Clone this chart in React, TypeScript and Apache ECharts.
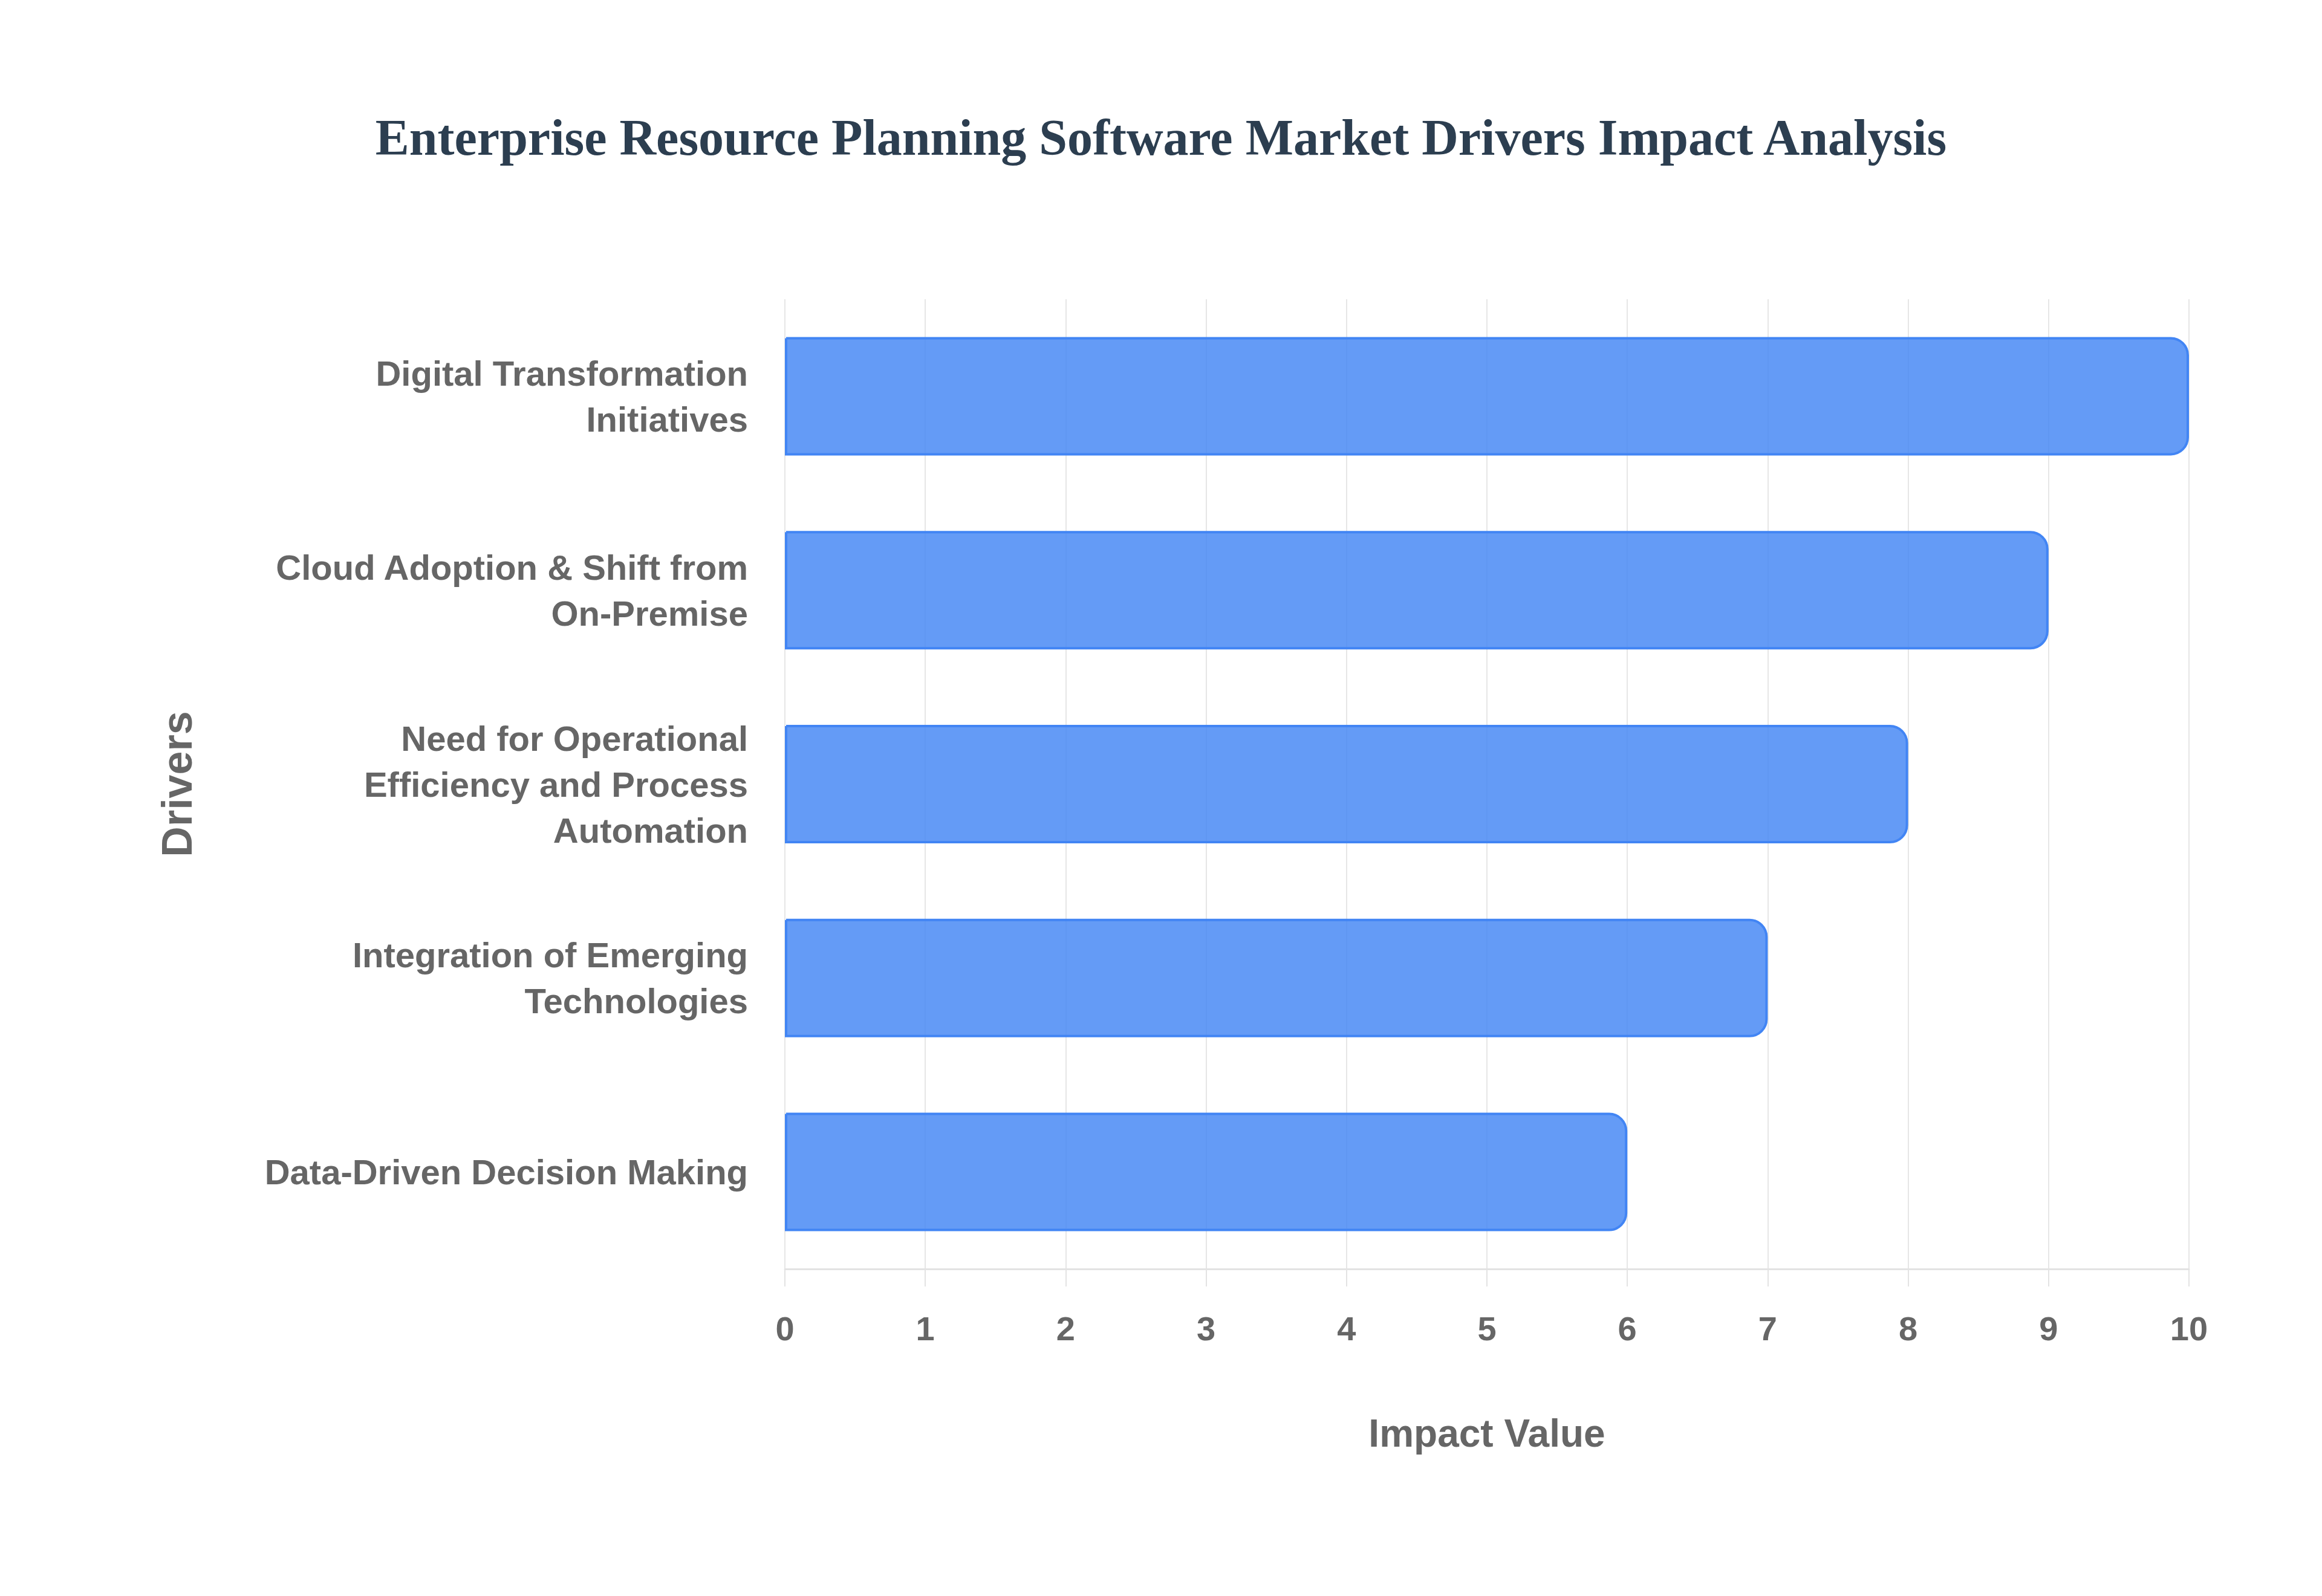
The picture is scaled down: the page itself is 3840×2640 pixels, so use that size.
import React, { useEffect, useRef } from "react";
import * as echarts from "echarts";

const categories = [
  "Digital Transformation Initiatives",
  "Cloud Adoption & Shift from On-Premise",
  "Need for Operational Efficiency and Process Automation",
  "Integration of Emerging Technologies",
  "Data-Driven Decision Making",
];
const labelLines = [
  ["Digital Transformation", "Initiatives"],
  ["Cloud Adoption & Shift from", "On-Premise"],
  ["Need for Operational", "Efficiency and Process", "Automation"],
  ["Integration of Emerging", "Technologies"],
  ["Data-Driven Decision Making"],
];
const impactValues = [10, 9, 8, 7, 6];
const xTicks = [0, 10, 1];

export default function App() {
  const ref = useRef<HTMLDivElement>(null);
  useEffect(() => {
    document.body.style.margin = "0";
    if (!ref.current) return;
    const chart = echarts.init(ref.current, undefined, { renderer: "svg" });
    chart.setOption({
      animation: false,
      backgroundColor: "#ffffff",
      title: {
        text: "Enterprise Resource Planning Software Market Drivers Impact Analysis",
        left: "center",
        top: 180,
        textStyle: {
          fontFamily: "Liberation Serif",
          fontWeight: "bold",
          fontSize: 84,
          color: "#2c3e50",
        },
      },
      grid: { left: 1298, right: 220, top: 495, bottom: 541 },
      xAxis: {
        type: "value",
        min: xTicks[0],
        max: xTicks[1],
        interval: xTicks[2],
        name: "Impact Value",
        nameLocation: "middle",
        nameGap: 240,
        nameTextStyle: {
          fontFamily: "Liberation Sans",
          fontWeight: "bold",
          fontSize: 64,
          color: "#666666",
        },
        axisLine: { show: true, lineStyle: { color: "#e3e3e3", width: 3 } },
        axisTick: { show: true, length: 29, lineStyle: { color: "#e3e3e3", width: 2 } },
        axisLabel: {
          margin: 70,
          fontFamily: "Liberation Sans",
          fontWeight: "bold",
          fontSize: 56,
          color: "#666666",
        },
        splitLine: { show: true, lineStyle: { color: "#e6e6e6", width: 2 } },
      },
      yAxis: {
        type: "category",
        data: categories,
        inverse: true,
        name: "Drivers",
        nameLocation: "middle",
        nameGap: 970,
        nameRotate: 90,
        nameTextStyle: {
          fontFamily: "Liberation Sans",
          fontWeight: "bold",
          fontSize: 70,
          color: "#666666",
        },
        axisLine: { show: false },
        axisTick: { show: false },
        splitLine: { show: false },
        axisLabel: {
          margin: 61,
          fontFamily: "Liberation Sans",
          fontWeight: "bold",
          fontSize: 58,
          lineHeight: 76,
          color: "#666666",
          align: "right",
          formatter: (v: string) => {
            const i = categories.indexOf(v);
            return i >= 0 ? labelLines[i].join("\n") : v;
          },
        },
      },
      series: [
        {
          type: "bar",
          data: impactValues,
          barWidth: 196,
          itemStyle: {
            color: "rgba(66,133,244,0.82)",
            borderColor: "#4285f4",
            borderWidth: 4,
            borderRadius: [0, 28, 28, 0],
          },
        },
      ],
    });
    return () => chart.dispose();
  }, []);
  return <div ref={ref} style={{ width: 3840, height: 2640 }} />;
}
